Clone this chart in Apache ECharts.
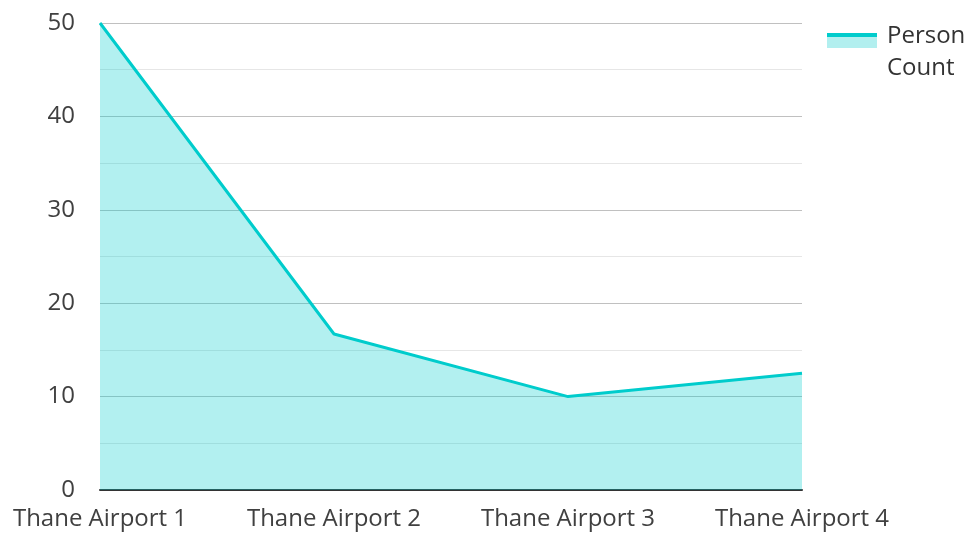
<!DOCTYPE html>
<html>
<head>
<meta charset="utf-8">
<script src="https://cdn.jsdelivr.net/npm/echarts@6/dist/echarts.min.js"></script>
<style>
    html, body { margin: 0; padding: 0; background: #fff; }
    #chart { width: 970px; height: 533px; }
</style>
</head>
<body>
<div id="chart"></div>
<script>
// data
const categories = ["Thane Airport 1", "Thane Airport 2", "Thane Airport 3", "Thane Airport 4"];
const personCount = [50, 16.7, 10, 12.5];
const seriesName = "Person Count";

const lineColor = "#00cccc";
const fillColor = "#b2efef";
const textColor = "#404040";

// legend swatch: line on top, area below, aligned with the first text line
// (tiny dots at the corners keep the icon box 55x64, swatch itself is 50 wide)
const legendIcon = "path://M0,0L0.01,0L0,0.01Z M0,13L50,13L50,28L0,28Z M55,64L54.99,64L55,63.99Z";

const myChart = echarts.init(document.getElementById("chart"));
myChart.setOption({
    animation: false,
    textStyle: { fontFamily: "Open Sans" },
    grid: { left: 100, right: 168, top: 23, bottom: 43 },
    legend: {
        data: [seriesName],
        orient: "vertical",
        left: 827,
        top: 20,
        padding: 0,
        icon: legendIcon,
        itemWidth: 55,
        itemHeight: 64,
        itemGap: 10,
        itemStyle: {
            color: {
                type: "linear", x: 0, y: 0, x2: 0, y2: 1,
                colorStops: [
                    { offset: 0, color: lineColor },
                    { offset: 17 / 64, color: lineColor },
                    { offset: 17 / 64, color: fillColor },
                    { offset: 1, color: fillColor }
                ]
            },
            borderWidth: 0
        },
        formatter: () => "Person\nCount",
        textStyle: { fontSize: 24, color: "#333", lineHeight: 32, fontFamily: "Open Sans" }
    },
    xAxis: {
        type: "category",
        data: categories,
        boundaryGap: false,
        axisLine: { lineStyle: { color: "#333", width: 2 } },
        axisTick: { show: false },
        axisLabel: { fontSize: 24, color: textColor, margin: 17 },
        splitLine: { show: false }
    },
    yAxis: {
        type: "value",
        min: 0,
        max: 50,
        interval: 10,
        axisLine: { show: false },
        axisTick: { show: false },
        axisLabel: { fontSize: 24, color: textColor, margin: 25 },
        splitLine: { lineStyle: { color: "#c0c0c0", width: 1 } },
        minorTick: { show: false, splitNumber: 2 },
        minorSplitLine: { show: true, lineStyle: { color: "#e6e6e6", width: 1 } }
    },
    series: [
        {
            name: seriesName,
            type: "line",
            data: personCount,
            showSymbol: false,
            symbol: "none",
            color: lineColor,
            lineStyle: { color: lineColor, width: 3 },
            areaStyle: { color: lineColor, opacity: 0.3 }
        }
    ]
});
</script>
</body>
</html>
